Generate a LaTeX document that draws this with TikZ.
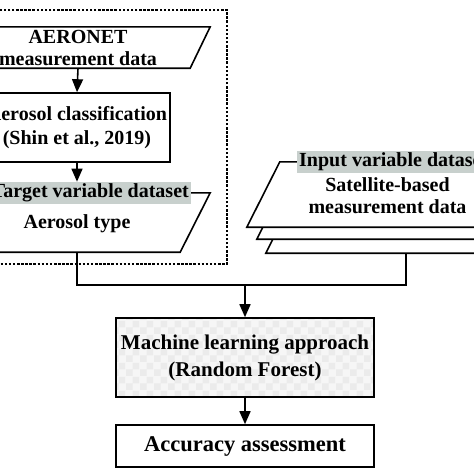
\documentclass[tikz,border=0pt]{standalone}
\usepackage{fontspec}
\setmainfont{Liberation Serif}
\usetikzlibrary{arrows.meta,patterns}
\pgfdeclarepatternformonly{mychk}{\pgfpointorigin}{\pgfpoint{14pt}{14pt}}{\pgfpoint{14pt}{14pt}}{%
  \pgfpathrectangle{\pgfpointorigin}{\pgfpoint{7pt}{7pt}}%
  \pgfpathrectangle{\pgfpoint{7pt}{7pt}}{\pgfpoint{7pt}{7pt}}%
  \pgfusepath{fill}}
\definecolor{labgray}{RGB}{200,208,205}
\newcommand{\paradraw}[2]{%
  \draw[ln, fill=white] (#1.south west) -- ([xshift=-#2pt]#1.south east) -- (#1.north east) -- ([xshift=#2pt]#1.north west) -- cycle;}
\tikzset{
  every node/.style={font=\bfseries\fontsize{20}{24}\selectfont, align=center},
  ln/.style={line width=1.6pt},
  arr/.style={ln, -{Triangle[width=11pt,length=13pt]}},
  parabox/.style={draw=none, rectangle, inner sep=0pt},
  boxx/.style={ln, draw, fill=white, rectangle, inner sep=0pt},
  lab/.style={fill=labgray, inner sep=2pt, minimum height=20pt},
  dashbox/.style={line width=1.5pt, dash pattern=on 2.5pt off 1.6pt}
}
\begin{document}
\begin{tikzpicture}[x=1pt, y=-1pt]
\useasboundingbox (0,0) rectangle (474,474);
\clip (0,0) rectangle (474,474);
\fill[white] (0,0) rectangle (474,474);
% dashed frame
\draw[dashbox] (-20,10) rectangle (227,264);
% left column
\node[parabox, minimum width=264pt, minimum height=41pt] (aero) at (78,47.5) {};
\paradraw{aero}{20}
\node[inner sep=0pt] (aerotxt) at (78,48) {AERONET\\[-2pt]measurement data};
\node[boxx, minimum width=186pt, minimum height=69pt] (cls) at (77,127.5) {Aerosol classification\\(Shin et al., 2019)};
\node[parabox, minimum width=266pt, minimum height=59pt] (tgt) at (77,222.5) {};
\paradraw{tgt}{30}
\node (tgttxt) at (77,224) {Aerosol type};
\node[lab, anchor=east] (tgtlab) at (191,193) {Target variable dataset};
% right stacked documents
\node[parabox, minimum width=280pt, minimum height=65pt] (inp3) at (406,220.5) {};
\paradraw{inp3}{33}
\node[parabox, minimum width=280pt, minimum height=65pt] (inp2) at (397,206.5) {};
\paradraw{inp2}{33}
\node[parabox, minimum width=280pt, minimum height=65pt] (inp1) at (387,194.5) {};
\paradraw{inp1}{33}
\node[inner sep=0pt] (inptxt) at (387.5,196) {Satellite-based\\[-2pt]measurement data};
\node[lab, anchor=west] (inplab) at (297,162) {Input variable dataset};
% bottom boxes
\node[ln, draw, rectangle, inner sep=0pt, minimum width=258pt, minimum height=79pt,
  preaction={fill=gray!7}, preaction={pattern=mychk, pattern color=gray!16},
  font=\bfseries\fontsize{21}{27}\selectfont] (ml) at (245,357.5) {Machine learning approach\\(Random Forest)};
\node[boxx, minimum width=258pt, minimum height=42pt, font=\bfseries\fontsize{22.5}{26}\selectfont] (acc) at (245,446) {Accuracy assessment};
% connectors
\coordinate (join) at (245,285);
\draw[arr] (aero.south) -- (cls.north);
\draw[arr] (cls.south) -- (cls.south |- tgtlab.north);
\draw[ln] (tgt.south) |- (join) -| (inp3.south);
\draw[arr] (join) -- (ml.north);
\draw[arr] (ml.south) -- (acc.north);
\end{tikzpicture}
\end{document}
